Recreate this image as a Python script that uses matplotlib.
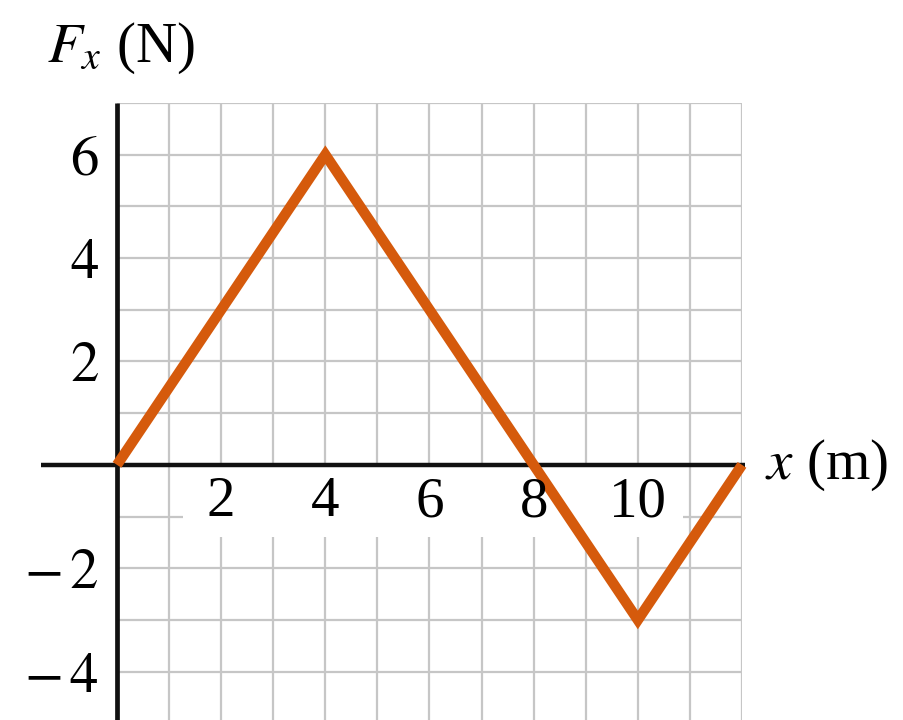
import matplotlib
matplotlib.use("Agg")
import matplotlib.pyplot as plt
from matplotlib.patches import Rectangle

# data
x_vals = [0, 4, 10, 12]
f_vals = [0, 6, -3, 0]
x_ticks = [2, 4, 6, 8, 10]
x_ticklabels = ["2", "4", "6", "8", "10"]
y_ticks = [6, 4, 2, -2, -4]
y_ticklabels = [r"$6$", r"$4$", r"$2$", r"$-\,2$", r"$-\,4$"]
grid_x = list(range(0, 13))
grid_y = list(range(-5, 8))

plt.rcParams['font.family'] = ['Liberation Serif', 'DejaVu Serif']
plt.rcParams['mathtext.fontset'] = 'stix'

fig = plt.figure(figsize=(9.04, 7.2), dpi=100)
W, H = 904, 720
ax = fig.add_axes([117 / W, 0, 625 / W, 1 - 103 / H])
ax.set_xlim(0, 12)
ax.set_ylim(-4.935, 7)

grid_c = '#c6c6c6'
ax.vlines(grid_x, -4.935, 7, colors=grid_c, lw=1.6, zorder=1)
ax.hlines(grid_y, 0, 12, colors=grid_c, lw=1.6, zorder=1)

# white label band
ax.add_patch(Rectangle((1.27, -1.4), 9.6, 1.4, facecolor='white', edgecolor='none', zorder=2))

# axes lines
ax.plot([-1.45, 12.05], [0, 0], color='#111111', lw=3.2, zorder=3, clip_on=False, solid_capstyle='butt')
ax.plot([0, 0], [-4.935, 7], color='#111111', lw=3.4, zorder=3, clip_on=False, solid_capstyle='butt')

ax.plot(x_vals, f_vals, color='#d55a0c', lw=7.5, zorder=4, solid_joinstyle='miter',
        solid_capstyle='butt', clip_on=False)

for s in ax.spines.values():
    s.set_visible(False)

ax.set_xticks([])
ax.set_yticks(y_ticks)
ax.set_yticklabels(y_ticklabels, fontsize=41)
ax.tick_params(axis='y', length=0, pad=13)

for xt, lab in zip(x_ticks, x_ticklabels):
    ax.text(xt, -0.72, lab, fontsize=41, ha='center', va='center', zorder=5)

ax.text(12.44, 0.0, r'$x$ (m)', fontsize=41, ha='left', va='center', clip_on=False)
ax.text(-1.35, 8.05, r'$F_x$ (N)', fontsize=41, ha='left', va='center', clip_on=False)

fig.savefig('out.png', dpi=100)
